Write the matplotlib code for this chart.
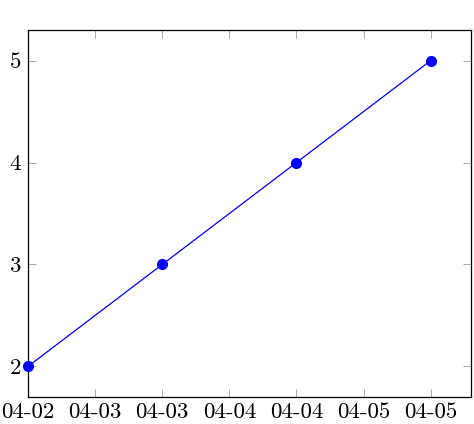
import matplotlib
matplotlib.use("Agg")
import matplotlib.pyplot as plt
import matplotlib.dates as mdates
import pandas as pd

# data
dates = ["2024-04-02", "2024-04-03", "2024-04-04", "2024-04-05"]
values = [2, 3, 4, 5]
tick_dates = ["2024-04-02 00:00", "2024-04-02 12:00", "2024-04-03 00:00",
              "2024-04-03 12:00", "2024-04-04 00:00", "2024-04-04 12:00",
              "2024-04-05 00:00"]
tick_labels = ["04-02", "04-03", "04-03", "04-04", "04-04", "04-05", "04-05"]
y_ticks = [2, 3, 4, 5]

plt.rcParams['font.family'] = 'cmr10'
plt.rcParams['axes.formatter.use_mathtext'] = True

x = pd.to_datetime(dates)
xt = pd.to_datetime(tick_dates)

fig = plt.figure(figsize=(4.74, 4.24), dpi=100)
ax = fig.add_axes([28 / 474, 1 - 397 / 424, 443 / 474, 367 / 424])

ax.plot(x, values, color='blue', linewidth=0.9, marker='o', markersize=7,
        markerfacecolor='blue', markeredgecolor='blue', clip_on=False, zorder=3)

x0 = mdates.date2num(x[0])
ax.set_xlim(x0, x0 + 3.3)
ax.set_ylim(1.7, 5.3)
ax.set_xticks(mdates.date2num(xt))
ax.set_xticklabels(tick_labels)
ax.set_yticks(y_ticks)
ax.set_yticklabels([str(v) for v in y_ticks])

ax.tick_params(direction='in', length=6, width=0.6, color='#999999',
               top=True, right=True, labelsize=16.5)
ax.tick_params(axis='x', pad=4)
ax.tick_params(axis='y', pad=5)
for s in ax.spines.values():
    s.set_linewidth(0.9)
    s.set_color('black')

fig.savefig("out.png", dpi=100)
